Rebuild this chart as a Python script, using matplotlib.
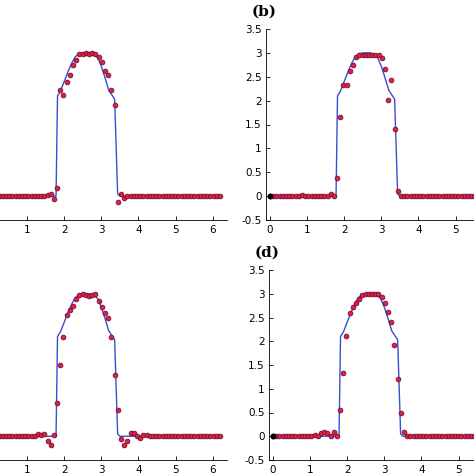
import numpy as np
import matplotlib.pyplot as plt

# exact solution (blue line)
exact_x = [0.0, 1.78, 1.82, 1.9, 2.0, 2.1, 2.2, 2.3, 2.4, 2.5, 2.7, 2.8, 2.9, 3.0, 3.1, 3.2, 3.3, 3.36, 3.44, 3.5, 6.2]
exact_y = [0.0, 0.0, 2.1, 2.2, 2.4, 2.6, 2.78, 2.92, 2.98, 3.0, 3.0, 2.97, 2.9, 2.72, 2.48, 2.22, 2.1, 2.03, 0.05, 0.0, 0.0]

# numerical grid (73 cells on [0, 6.2])
grid_x = np.linspace(0, 6.2, 73)

y_a = ([0.0] * 17 + [0.0, 0.03, 0.05, -0.07, 0.18, 2.22, 2.12, 2.4, 2.53, 2.75, 2.85, 2.97, 2.97, 2.99,
        2.97, 2.99, 2.97, 2.92, 2.8, 2.63, 2.53, 2.22, 1.9, -0.12, 0.05, -0.03] + [0.0] * 30)
y_b = ([0.0] * 10 + [0.03] + [0.0] * 8 + [0.04, 0.0, 0.37, 1.65, 2.32, 2.32, 2.63, 2.75, 2.92, 2.96, 2.96,
        2.96, 2.96, 2.96, 2.96, 2.96, 2.9, 2.66, 2.02, 2.43, 1.4, 0.1] + [0.0] * 32)
y_c = ([0.0] * 15 + [0.04, 0.03, 0.05, -0.1, -0.18, 0.03, 0.7, 1.5, 2.1, 2.55, 2.65, 2.75, 2.88, 2.97, 3.0,
        2.97, 2.95, 2.98, 2.99, 2.85, 2.72, 2.6, 2.5, 2.1, 1.3, 0.55, -0.05, -0.18, -0.1, 0.07, 0.07,
        0.0, -0.04, 0.02, 0.03] + [0.0] * 23)
y_d = ([0.0] * 13 + [0.02, 0.01, 0.06, 0.08, 0.07, 0.0, 0.08, 0.0, 0.55, 1.33, 2.12, 2.6, 2.73, 2.8, 2.9,
        2.97, 3.0, 3.0, 3.0, 3.0, 3.0, 2.93, 2.8, 2.62, 2.4, 1.93, 1.2, 0.5, 0.08] + [0.0] * 31)

W = 474.0
fig = plt.figure(figsize=(4.74, 4.74), dpi=100)

# axes rectangles in pixels: (left, top, width, height); left panels are cropped in the source
ppu = 37.1
panels = [
    (-10 - 0.1 * ppu, 29, 6.5 * ppu, 191, y_a, None, True),
    (270 - 0.1 * ppu, 29, 6.5 * ppu, 191, y_b, '(b)', False),
    (-10 - 0.1 * ppu, 270, 6.5 * ppu, 190, y_c, None, True),
    (273 - 0.1 * ppu, 270, 6.5 * ppu, 190, y_d, '(d)', False),
]

for left, top, w, h, ys, label, cropped in panels:
    ax = fig.add_axes([left / W, 1 - (top + h) / W, w / W, h / W])
    ax.plot(exact_x, exact_y, color='#3a4fd0', lw=1.0, zorder=2)
    ax.plot(grid_x, ys, 'o', ms=3.4, mfc='#e8202a', mec='#6a1050', mew=0.6, zorder=3)
    ax.plot([0], [0], 'o', ms=3.2, color='black', zorder=4)
    ax.set_xlim(-0.1, 6.4)
    ax.set_ylim(-0.5, 3.5)
    ax.set_xticks([0, 1, 2, 3, 4, 5, 6])
    ax.set_yticks([-0.5, 0, 0.5, 1, 1.5, 2, 2.5, 3, 3.5])
    ax.set_yticklabels(['-0.5', '0', '0.5', '1', '1.5', '2', '2.5', '3', '3.5'])
    ax.tick_params(direction='in', labelsize=7.5, length=3, width=0.6)
    for s in ['top', 'right']:
        ax.spines[s].set_visible(False)
    for s in ['left', 'bottom']:
        ax.spines[s].set_linewidth(0.6)
    if cropped:
        ax.set_xticks([1, 2, 3, 4, 5, 6])
        ax.tick_params(axis='y', left=False, labelleft=False)
        ax.spines['left'].set_visible(False)
    if label:
        fig.text((left - 15) / W, 1 - (top - 17) / W, label, fontsize=11, fontweight='bold',
                 family='DejaVu Serif', va='center')

plt.savefig('out.png', dpi=100)
